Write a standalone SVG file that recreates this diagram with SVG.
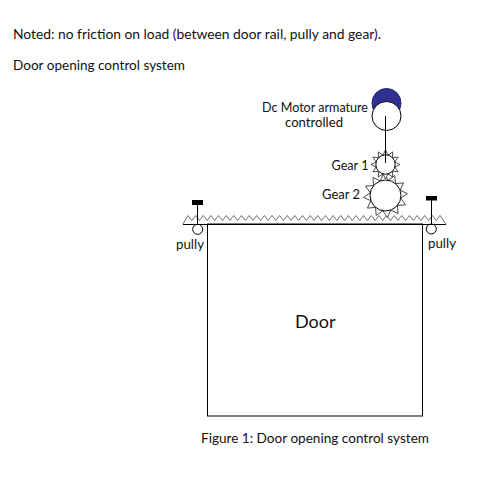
<svg xmlns="http://www.w3.org/2000/svg" width="481" height="481" viewBox="0 0 481 481">
<style>
text{font-family:"Lato","Open Sans",sans-serif;font-size:13.3px;fill:#111}
.l{fill:none;stroke:#000;stroke-width:1}
.z{fill:none;stroke:#333;stroke-width:.7}
.w{fill:#fff;stroke:#000;stroke-width:1}
.t{fill:#fff;stroke:#222;stroke-width:.8}
.b{fill:#000;stroke:none}
</style>
<rect width="481" height="481" fill="#fff"/>
<text id="note" x="13" y="39" textLength="368" lengthAdjust="spacingAndGlyphs">Noted: no friction on load (between door rail, pully and gear).</text>
<text id="subtitle" x="13" y="70" textLength="172" lengthAdjust="spacingAndGlyphs">Door opening control system</text>
<g id="door"><rect class="l" x="207.500" y="224" width="215" height="192"/><text x="295" y="327.500" style="font-size:18px">Door</text></g>
<g id="rail">
<polyline class="z" points="183,224 188,215.500 191.800,220.500 195.600,215.500 199.500,220.500 203.300,215.500 207.100,220.500 210.900,215.500 214.700,220.500 218.500,215.500 222.400,220.500 226.200,215.500 230,220.500 233.800,215.500 237.600,220.500 241.500,215.500 245.300,220.500 249.100,215.500 252.900,220.500 256.700,215.500 260.500,220.500 264.400,215.500 268.200,220.500 272,215.500 275.800,220.500 279.600,215.500 283.500,220.500 287.300,215.500 291.100,220.500 294.900,215.500 298.700,220.500 302.500,215.500 306.400,220.500 310.200,215.500 314,220.500 317.800,215.500 321.600,220.500 325.500,215.500 329.300,220.500 333.100,215.500 336.900,220.500 340.700,215.500 344.500,220.500 348.400,215.500 352.200,220.500 356,215.500 359.800,220.500 363.600,215.500 367.500,220.500 371.300,215.500 375.100,220.500 378.900,215.500 382.700,220.500 386.500,215.500 390.400,220.500 394.200,215.500 398,220.500 401.800,215.500 405.600,220.500 409.500,215.500 413.300,220.500 417.100,215.500 420.900,220.500 424.700,215.500 428.500,220.500 432.400,215.500 436.200,220.500 440,215.500 446,224"/>
<line class="l" x1="183" y1="224.500" x2="446" y2="224.500"/>
</g>
<g id="motor">
<circle cx="386.500" cy="103" r="14.500" fill="#2e3192" stroke="#1f2270"/>
<circle class="w" cx="386.500" cy="116" r="14.500"/>
<text x="315" y="112" text-anchor="middle" textLength="106" lengthAdjust="spacingAndGlyphs">Dc Motor armature</text>
<text x="314" y="127" text-anchor="middle" textLength="58" lengthAdjust="spacingAndGlyphs">controlled</text>
</g>
<g id="gear2">
<polygon class="t" transform="translate(385.500 195.500) rotate(-5)" points="22,0 15,4 19.100,11 11,11 11,19.100 4,15 0,22 -4,15 -11,19.100 -11,11 -19.100,11 -15,4 -22,0 -15,-4 -19.100,-11 -11,-11 -11,-19.100 -4,-15 0,-22 4,-15 11,-19.100 11,-11 19.100,-11 15,-4"/>
<circle class="w" cx="385.500" cy="195.500" r="15.500"/>
<text x="341" y="199" text-anchor="middle" textLength="38" lengthAdjust="spacingAndGlyphs">Gear 2</text>
</g>
<g id="gear1">
<polygon class="t" transform="translate(385.500 164.500)" points="14.500,0 9.400,2.500 12.600,7.300 6.900,6.900 7.300,12.600 2.500,9.400 0,14.500 -2.500,9.400 -7.300,12.600 -6.900,6.900 -12.600,7.300 -9.400,2.500 -14.500,0 -9.400,-2.500 -12.600,-7.300 -6.900,-6.900 -7.300,-12.600 -2.500,-9.400 0,-14.500 2.500,-9.400 7.300,-12.600 6.900,-6.900 12.600,-7.300 9.400,-2.500"/>
<circle class="w" cx="385.500" cy="164.500" r="9.700"/>
<text x="350" y="169.500" text-anchor="middle" textLength="37" lengthAdjust="spacingAndGlyphs">Gear 1</text>
</g>
<g id="connectors">
<line class="l" x1="385.500" y1="116" x2="385.500" y2="163"/>
<line class="l" x1="197.500" y1="205" x2="197.500" y2="224"/>
<line class="l" x1="431.500" y1="200" x2="431.500" y2="224"/>
</g>
<g id="pully-left">
<rect class="b" x="192" y="200" width="11" height="5"/>
<circle class="l" cx="197.700" cy="229.300" r="5"/>
<text x="176" y="249" textLength="28" lengthAdjust="spacingAndGlyphs">pully</text>
</g>
<g id="pully-right">
<rect class="b" x="426" y="196" width="11" height="4.500"/>
<circle class="l" cx="431.300" cy="229" r="5"/>
<text x="428" y="248" textLength="28" lengthAdjust="spacingAndGlyphs">pully</text>
</g>
<text id="caption" x="201" y="443" textLength="228" lengthAdjust="spacingAndGlyphs">Figure 1: Door opening control system</text>
</svg>
